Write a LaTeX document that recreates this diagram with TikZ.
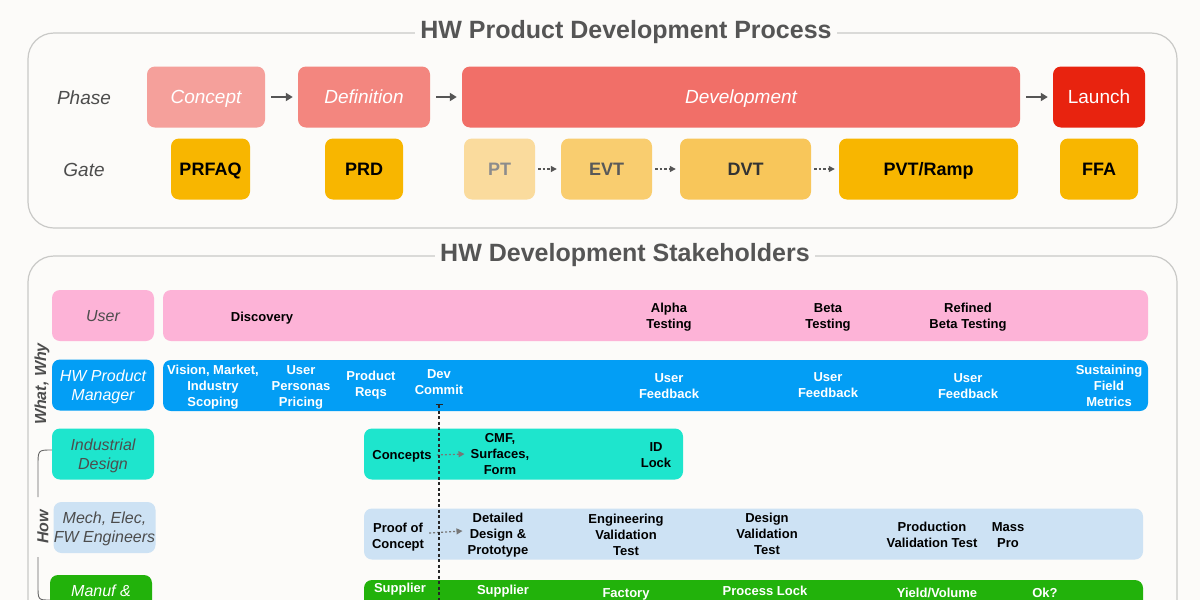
\documentclass[tikz,border=0pt]{standalone}
\usepackage{fontspec}
\setmainfont{Liberation Sans}
\usetikzlibrary{arrows.meta}

\definecolor{bg}{HTML}{FCFBF9}
\definecolor{cFrame}{HTML}{C9C9C7}
\definecolor{cTitle}{HTML}{555555}
\definecolor{cLabel}{HTML}{4D4D4D}
\definecolor{cArrow}{HTML}{555555}
\definecolor{cConcept}{HTML}{F5A09B}
\definecolor{cDefinition}{HTML}{F3867F}
\definecolor{cDevelopment}{HTML}{F16F68}
\definecolor{cLaunch}{HTML}{E8230F}
\definecolor{cGate}{HTML}{F8B600}
\definecolor{cPT}{HTML}{FADB9D}
\definecolor{cEVT}{HTML}{F9CD6F}
\definecolor{cDVT}{HTML}{F8C65A}
\definecolor{cUser}{HTML}{FDB3D7}
\definecolor{cPM}{HTML}{039EF5}
\definecolor{cID}{HTML}{1EE5CD}
\definecolor{cMech}{HTML}{CDE2F4}
\definecolor{cMfg}{HTML}{22B20B}

\tikzset{
  frame/.style={draw=cFrame, line width=1.2pt, rounded corners=26pt},
  title/.style={fill=bg, inner xsep=5pt, inner ysep=2pt, text=cTitle, font={\fontsize{25}{28}\selectfont\bfseries}},
  box/.style={rounded corners=8pt, inner sep=0pt, align=center, text depth=0pt},
  phasebox/.style={box, minimum height=61, text=white, text height=13.6pt, font={\fontsize{19}{22}\selectfont\itshape}},
  gatebox/.style={box, minimum height=61, fill=cGate, text height=12.9pt, font={\fontsize{18}{21}\selectfont\bfseries}},
  rowlabel/.style={text=cLabel, inner sep=0pt, text height=13.6pt, text depth=0pt, font={\fontsize{19}{22}\selectfont\itshape}},
  rolebox/.style={box, minimum width=102, minimum height=51, font={\fontsize{16}{19}\selectfont\itshape}},
  band/.style={box, minimum height=51},
  bandtext/.style={align=center, inner sep=0pt, text depth=0pt, font={\fontsize{13}{16}\selectfont\bfseries}},
  sidelabel/.style={rotate=90, inner sep=0pt, text=cLabel, font={\fontsize{16}{19}\selectfont\bfseries\itshape}},
  phasearrow/.style={draw=cArrow, line width=2pt, -{Triangle[length=7pt,width=8pt]}, shorten <=6pt, shorten >=5pt},
  gatearrow/.style={draw=cArrow, line width=1.3pt, dash pattern=on 2.5pt off 2pt, -{Triangle[length=6pt,width=6pt]}, shorten <=3pt, shorten >=4pt},
  steparrow/.style={draw=cArrow!80, line width=1.2pt, dash pattern=on 2pt off 2pt, -{Triangle[length=6pt,width=6pt]}},
  commitline/.style={draw=black!85, line width=1.4pt, dash pattern=on 3pt off 2.5pt, {Bar[width=7pt,line width=1.4pt]}-},
  bracket/.style={draw=black!60, line width=0.9pt}
}

\begin{document}
\begin{tikzpicture}[x=1pt, y=-1pt]

%canvas
\useasboundingbox (0,0) rectangle (1200,600);
\clip (0,0) rectangle (1200,600);
\fill[bg] (0,0) rectangle (1200,600);

%outer frames
\draw[frame] (28,33) rectangle (1177,228);
\draw[frame] (28,256) rectangle (1177,720);

%titles (masking the frame line)
\node[title] (proctitle) at (626,32) {HW Product Development Process};
\node[title] (stktitle)  at (625,255) {HW Development Stakeholders};

%---------------- process: phases
\node[rowlabel] (phaselbl) at (84,98) {Phase};
\node[phasebox, fill=cConcept, minimum width=118]     (concept) at (206,97) {Concept};
\node[phasebox, fill=cDefinition, minimum width=132]  (definition) at (364,97) {Definition};
\node[phasebox, fill=cDevelopment, minimum width=558] (development) at (741,97) {Development};
\node[phasebox, fill=cLaunch, minimum width=92, font={\fontsize{19}{22}\selectfont}] (launch) at (1099,97) {Launch};

\draw[phasearrow] (concept) -- (definition);
\draw[phasearrow] (definition) -- (development);
\draw[phasearrow] (development) -- (launch);

%---------------- process: gates
\node[rowlabel] (gatelbl) at (84,170) {Gate};
\node[gatebox, minimum width=79]  (prfaq) at (210.5,169) {PRFAQ};
\node[gatebox, minimum width=78]  (prd)   at (364,169) {PRD};
\node[gatebox, minimum width=71, fill=cPT, text=black!45]   (pt)  at (499.5,169) {PT};
\node[gatebox, minimum width=91, fill=cEVT, text=black!65]  (evt) at (606.5,169) {EVT};
\node[gatebox, minimum width=131, fill=cDVT, text=black!80] (dvt) at (745.5,169) {DVT};
\node[gatebox, minimum width=179] (pvt) at (928.5,169) {PVT/Ramp};
\node[gatebox, minimum width=78]  (ffa) at (1099,169) {FFA};

\draw[gatearrow] (pt) -- (evt);
\draw[gatearrow] (evt) -- (dvt);
\draw[gatearrow] (dvt) -- (pvt);

%---------------- stakeholders: side labels and brackets
\node[sidelabel] (whatwhy) at (42,384) {What, Why};
\node[sidelabel] (how)     at (43,527) {How};

%---------------- stakeholders: roles
\node[rolebox, fill=cUser, text=cLabel]  (userlbl) at (103,315.5) {User};
\node[rolebox, fill=cPM, text=white]     (pmlbl)   at (103,385) {HW Product\\Manager};
\node[rolebox, fill=cID, text=cLabel]    (idlbl)   at (103,454) {Industrial\\Design};
\node[rolebox, fill=cMech, text=black!70] (mechlbl) at (104.5,527.5) {Mech, Elec,\\FW Engineers};
\node[rolebox, fill=cMfg, minimum height=60] (mfglbl) at (101,605) {};
\node[bandtext, text=white, font={\fontsize{16}{19}\selectfont\itshape}] (mfgtext) at (101,591) {Manuf \&};

\draw[bracket] ([yshift=4pt]idlbl.west) .. controls (38,450) .. (38,466) -- (38,497);
\draw[bracket] (38,557) -- (38,585) .. controls (38,600) .. ([yshift=5pt]mfglbl.west);

%---------------- stakeholders: bands
\node[band, fill=cUser, minimum width=985] (userband) at (655.5,315.5) {};
\node[band, fill=cPM, minimum width=985]   (pmband)   at (655.5,385.5) {};
\node[band, fill=cID, minimum width=319]   (idband)   at (523.5,454) {};
\node[band, fill=cMech, minimum width=779] (mechband) at (753.5,534) {};
\node[band, fill=cMfg, minimum width=779]  (mfgband)  at (753.5,605.5) {};

%user band
\node[bandtext] (discovery) at (262,317) {Discovery};
\node[bandtext] (alpha)     at (669,316) {Alpha\\Testing};
\node[bandtext] (beta)      at (828,316) {Beta\\Testing};
\node[bandtext] (refined)   at (968,316) {Refined\\Beta Testing};

%product manager band
\node[bandtext, text=white] (vision)    at (213,386) {Vision, Market,\\Industry\\Scoping};
\node[bandtext, text=white] (personas)  at (301,386) {User\\Personas\\Pricing};
\node[bandtext, text=white] (reqs)      at (371,384) {Product\\Reqs};
\node[bandtext, text=white] (devcommit) at (439,382) {Dev\\Commit};
\node[bandtext, text=white] (feedbacka) at (669,386) {User\\Feedback};
\node[bandtext, text=white] (feedbackb) at (828,385) {User\\Feedback};
\node[bandtext, text=white] (feedbackc) at (968,386) {User\\Feedback};
\node[bandtext, text=white] (metrics)   at (1109,386) {Sustaining\\Field\\Metrics};

%industrial design band
\node[bandtext] (concepts) at (402,455) {Concepts};
\node[bandtext] (cmf)      at (500,454) {CMF,\\Surfaces,\\Form};
\node[bandtext] (idlock)   at (656,455) {ID\\Lock};
\draw[steparrow] (concepts.east) ++(5,0) -- ([xshift=-6pt]cmf.west);

%engineering band
\node[bandtext] (poc)      at (398,536) {Proof of\\Concept};
\node[bandtext] (detailed) at (498,534) {Detailed\\Design \&\\Prototype};
\node[bandtext] (evttext)  at (626,535) {Engineering\\Validation\\Test};
\node[bandtext] (dvttext)  at (767,534) {Design\\Validation\\Test};
\node[bandtext] (pvttext)  at (932,535) {Production\\Validation Test};
\node[bandtext] (masspro)  at (1008,535) {Mass\\Pro};
\draw[steparrow] (poc.east) ++(5,-3) -- ([xshift=-5pt,yshift=3pt]detailed.west);

%manufacturing band (cut off at the bottom)
\node[bandtext, text=white] (suppliera) at (400,588) {Supplier};
\node[bandtext, text=white] (supplierb) at (503,590) {Supplier};
\node[bandtext, text=white] (factory)   at (626,593) {Factory};
\node[bandtext, text=white] (process)   at (765,591) {Process Lock};
\node[bandtext, text=white] (yield)     at (937,593) {Yield/Volume};
\node[bandtext, text=white] (okq)       at (1045,593) {Ok?};

%dev commit line
\coordinate (committop) at (439,404);
\coordinate (commitend) at (439,640);
\draw[commitline] (committop) -- (commitend);

\end{tikzpicture}
\end{document}
